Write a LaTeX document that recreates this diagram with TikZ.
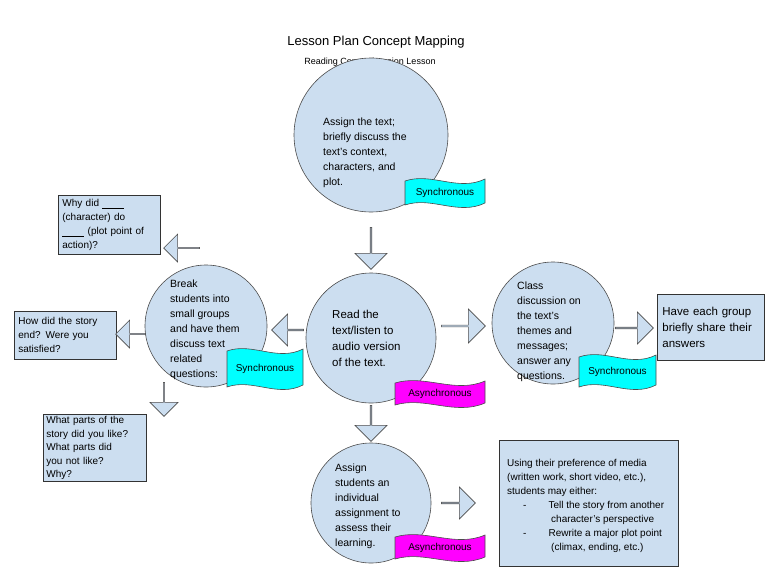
\documentclass[tikz,border=0pt]{standalone}
\usepackage{fontspec}
\setmainfont{Liberation Sans}
\usetikzlibrary{shapes.arrows}

\definecolor{paleblue}{RGB}{204,222,240}
\definecolor{syncol}{RGB}{0,255,255}
\definecolor{asyncol}{RGB}{255,0,255}

\tikzset{
  bubble/.style={draw=black!70, fill=paleblue, circle, inner sep=0pt, line width=0.6pt},
  txt/.style={align=left, inner sep=0pt, font=\fontsize{10.5}{15}\selectfont},
  box/.style={draw=black!80, fill=paleblue, line width=0.8pt},
  blockarrow/.style={draw=black!70, fill=paleblue, single arrow, line width=0.6pt,
    minimum width=32pt, single arrow head extend=6pt, inner sep=0pt},
}

% banner: x, y, width, height, colour, name, text
\newcommand{\flag}[7]{%
  \filldraw[draw=black!70, line width=0.6pt, fill=#5] (#1,#2)
    .. controls ({#1+#3/3},{#2-9}) and ({#1+2*#3/3},{#2+11}) .. ({#1+#3},{#2-2})
    -- ({#1+#3},{#2+#4-2})
    .. controls ({#1+2*#3/3},{#2+#4+11}) and ({#1+#3/3},{#2+#4-9}) .. (#1,{#2+#4}) -- cycle;
  \node[txt, font=\fontsize{10}{12}\selectfont] (#6) at ({#1+#3/2},{#2+#4/2}) {#7};}

\begin{document}
\begin{tikzpicture}[x=1pt, y=-1pt]
\path [use as bounding box] (0,0) rectangle (768,576);

% TITLE
\node (title) at (376,42) {\fontsize{13}{15}\selectfont Lesson Plan Concept Mapping};
\node (subtitle) at (370,62) {\fontsize{9}{11}\selectfont Reading Comprehension Lesson};

% BUBBLES
\node[bubble, minimum size=154pt] (assign) at (371,135) {};
\node[bubble, minimum size=130pt] (read) at (371,338) {};
\node[bubble, minimum size=122pt] (groups) at (206,326) {};
\node[bubble, minimum size=122pt] (discuss) at (553,323) {};
\node[bubble, minimum size=120pt] (individual) at (371,503) {};

\node[txt, anchor=north west] (assigntxt) at (323,118) {Assign the text;\\briefly discuss the\\text's context,\\characters, and\\plot.};
\node[txt, anchor=north west, font=\fontsize{11.5}{16}\selectfont] (readtxt) at (332,310) {Read the\\text/listen to\\audio version\\of the text.};
\node[txt, anchor=north west] (groupstxt) at (170,280) {Break\\students into\\small groups\\and have them\\discuss text\\related\\questions:};
\node[txt, anchor=north west] (discusstxt) at (517,282) {Class\\discussion on\\the text's\\themes and\\messages;\\answer any\\questions.};
\node[txt, anchor=north west] (individualtxt) at (335,464) {Assign\\students an\\individual\\assignment to\\assess their\\learning.};

% BANNERS
\flag{405}{181}{80}{24}{syncol}{flag1}{Synchronous}
\flag{227}{351}{76}{36}{syncol}{flag2}{Synchronous}
\flag{579}{357}{77}{30}{syncol}{flag3}{Synchronous}
\flag{395}{383}{90}{22}{asyncol}{flag4}{Asynchronous}
\flag{395}{537}{90}{22}{asyncol}{flag5}{Asynchronous}

% BOXES
\node[box, txt, anchor=north west, minimum width=102pt, minimum height=55pt, inner sep=4pt, align=left, text width=94pt, font=\fontsize{10}{14}\selectfont] (why) at (58,195) {Why did \underline{\hspace{2.2em}}\\(character) do\\\underline{\hspace{2.2em}} (plot point of\\action)?};
\node[box, txt, anchor=north west, minimum width=102pt, minimum height=48pt, inner sep=4pt, text width=94pt, font=\fontsize{10}{14}\selectfont] (how) at (14,311) {How did the story\\end? Were you\\satisfied?};
\node[box, txt, anchor=north west, minimum width=103pt, minimum height=55pt, inner sep=2pt, text width=97pt, font=\fontsize{10}{13.5}\selectfont] (what) at (43,414) {What parts of the\\story did you like?\\What parts did\\you not like?\\Why?};
\node[box, txt, anchor=north west, minimum width=107pt, minimum height=66pt, inner sep=5pt, text width=97pt, font=\fontsize{11.5}{16}\selectfont] (share) at (657,294) {Have each group\\briefly share their\\answers};
\node[box, anchor=north west, minimum width=179pt, minimum height=126pt] (media) at (499,440) {};
\node[txt, anchor=north west, font=\fontsize{10}{14}\selectfont] (mediatxt) at (507,459) {Using their preference of media\\(written work, short video, etc.),\\students may either:\\
\hspace{1.6em}-\hspace{2.2em}Tell the story from another\\
\hspace{4.4em}character's perspective\\
\hspace{1.6em}-\hspace{2.2em}Rewrite a major plot point\\
\hspace{4.4em}(climax, ending, etc.)};

% ARROWS
\node[blockarrow, minimum height=42pt, shape border rotate=270] (a1) at (371,248) {};
\node[blockarrow, minimum height=44pt, minimum width=34pt] (a2) at (463,326) {};
\node[blockarrow, minimum height=38pt] (a3) at (634,328) {};
\node[blockarrow, minimum height=32pt, shape border rotate=180] (a4) at (288,330) {};
\node[blockarrow, minimum height=36pt, shape border rotate=270] (a5) at (371,423) {};
\node[blockarrow, minimum height=34pt] (a6) at (458,503) {};
\node[blockarrow, minimum height=30pt, minimum width=28pt, shape border rotate=180] (a7) at (131,334) {};
\node[blockarrow, minimum height=36pt, minimum width=28pt, shape border rotate=145] (a8) at (182,248) {};
\node[blockarrow, minimum height=34pt, minimum width=28pt, shape border rotate=225] (a9) at (164,399) {};

\end{tikzpicture}
\end{document}
